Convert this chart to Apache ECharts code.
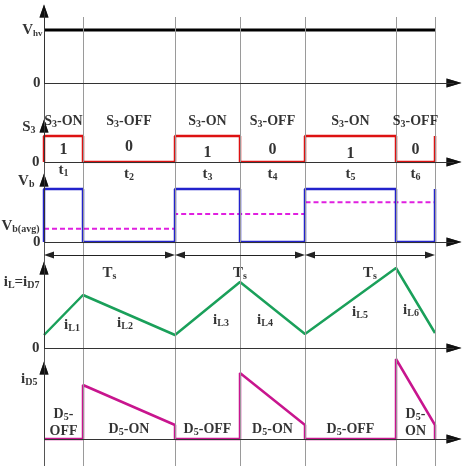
<!DOCTYPE html>
<html><head><meta charset="utf-8">
<script src="https://cdn.jsdelivr.net/npm/echarts@6/dist/echarts.min.js"></script>
<style>html,body{margin:0;padding:0;background:#fff}#c{width:474px;height:474px}</style>
</head><body><div id="c"></div>
<script>
// ---- data (time units: switching instants) ----
const boundaries = [0, 39, 131, 196, 261, 352, 391];
const intervalIds = ['1', '2', '3', '4', '5', '6'];
const s3States = ['ON', 'OFF', 'ON', 'OFF', 'ON', 'OFF'];
const s3Bits = ['1', '0', '1', '0', '1', '0'];
const s3Level = [1, 0, 1, 0, 1, 0, 1];
const vbLevel = [1, 0, 1, 0, 1, 0, 1];
const vhvLevel = 1;
const vbAvg = [0.25, 0.53, 0.75];
const iLValues = [1.3, 5.3, 1.3, 6.6, 1.4, 8.0, 1.5];
const iLIds = ['L1', 'L2', 'L3', 'L4', 'L5', 'L6'];
const iD5Start = [0, 5.4, 0, 6.6, 0, 8.0];
const iD5End = [0, 1.4, 0, 1.4, 0, 1.4];
const d5States = ['OFF', 'ON', 'OFF', 'ON', 'OFF', 'ON'];
const periodSub = 's';

// ---- build series data ----
const b = boundaries;
const mid = i => (b[i] + b[i + 1]) / 2;
function stepData(levels) {
  const pts = [[b[0], 0]];
  for (let i = 0; i < b.length - 1; i++) { pts.push([b[i], levels[i]], [b[i + 1], levels[i]]); }
  pts.push([b[b.length - 1], levels[levels.length - 1]]);
  return pts;
}
const s3Data = stepData(s3Level);
const vbData = stepData(vbLevel);
const vbAvgData = [];
vbAvg.forEach((v, k) => { vbAvgData.push([b[2 * k], v], [b[2 * k + 2], v]); });
const iLData = b.map((t, i) => [t, iLValues[i]]);
const iD5Data = [];
for (let i = 0; i < b.length - 1; i++) {
  iD5Data.push([b[i], 0], [b[i], iD5Start[i]], [b[i + 1], iD5End[i]], [b[i + 1], 0]);
}
const vhvData = [[b[0], vhvLevel], [b[b.length - 1], vhvLevel]];

// ---- styling / layout ----
const FONT = 'Liberation Serif';
const XMAX = 418;      // grid extent (room for arrowheads)
const XEND = 410;      // end of horizontal axis lines
const rich = {
  sub: { fontFamily: FONT, fontWeight: 'bold', fontSize: 10, padding: [7, 0, 0, 0], color: '#000' },
  subs: { fontFamily: FONT, fontWeight: 'bold', fontSize: 9, padding: [7, 0, 0, 0], color: '#000' }
};
const grids = [
  { top: 17, height: 449 },   // background guides
  { top: 3, height: 80 },     // Vhv
  { top: 118, height: 44 },   // S3
  { top: 172, height: 70 },   // Vb
  { top: 245, height: 30 },   // Ts arrows
  { top: 260, height: 88 },   // iL
  { top: 360, height: 79 }    // iD5
].map(g => Object.assign({ left: 44, width: XMAX }, g));
const yMax = [1, 1.509, 1.692, 1.321, 1, 8.8, 7.9];
const yEnd = [1, 1.358, 1.385, 1.17, 1, 8.0, 7.1];
const panels = [1, 2, 3, 5, 6];
const xAxes = grids.map((g, i) => ({ gridIndex: i, type: 'value', min: 0, max: XMAX, show: false }));
const yAxes = grids.map((g, i) => ({ gridIndex: i, type: 'value', min: 0, max: yMax[i], show: false }));

function ann(gi, items, fontSize) {
  return {
    type: 'scatter', xAxisIndex: gi, yAxisIndex: gi, symbolSize: 1, silent: true, clip: false, z: 6,
    itemStyle: { color: 'rgba(0,0,0,0)' },
    label: {
      show: true, formatter: p => p.name, fontFamily: FONT, fontWeight: 'bold',
      fontSize: fontSize || 14, color: '#000', lineHeight: 16, rich: rich
    },
    data: items.map(it => ({
      value: [it.x, it.y], name: it.text,
      label: { position: it.pos || 'inside', distance: it.dist || 0, fontSize: it.fs || fontSize || 14, lineHeight: it.lh || 16 }
    }))
  };
}
// axis lines (markLine) through each panel's scales
function axisLines(gi) {
  return {
    type: 'scatter', xAxisIndex: gi, yAxisIndex: gi, data: [],
    markLine: {
      animation: false, symbol: 'none',
      label: { show: false }, lineStyle: { color: '#333', width: 1, type: 'solid' },
      data: [
        [{ coord: [0, 0] }, { coord: [XEND, 0] }],
        [{ coord: [0, 0] }, { coord: [0, yEnd[gi]] }]
      ]
    }
  };
}
// arrowheads at the axis ends (custom polygons positioned with api.coord)
function axisArrowsCustom(gi) {
  return {
    type: 'custom', coordinateSystem: 'cartesian2d', xAxisIndex: gi, yAxisIndex: gi,
    data: [[XEND, yEnd[gi]]],
    renderItem: function (params, api) {
      const r = api.coord([api.value(0), 0]);
      const u = api.coord([0, api.value(1)]);
      return {
        type: 'group',
        children: [
          { type: 'polygon', shape: { points: [[r[0] + 7.5, r[1]], [r[0] - 7.5, r[1] - 4.5], [r[0] - 7.5, r[1] + 4.5]] }, style: { fill: '#111' } },
          { type: 'polygon', shape: { points: [[u[0], u[1] - 6.5], [u[0] - 4.5, u[1] + 6.5], [u[0] + 4.5, u[1] + 6.5]] }, style: { fill: '#111' } }
        ]
      };
    }
  };
}
// same arrowheads as scatter symbols (identical geometry)
function axisArrowsScatter(gi) {
  return {
    type: 'scatter', xAxisIndex: gi, yAxisIndex: gi,
    itemStyle: { color: '#111' },
    data: [
      { value: [XEND, 0], symbol: 'path://M0,0L16,5L0,10Z', symbolSize: [15, 9] },
      { value: [0, yEnd[gi]], symbol: 'path://M5,0L10,16L0,16Z', symbolSize: [9, 13] }
    ]
  };
}

const bitY = [0.46, 0.58, 0.35, 0.46, 0.31, 0.46];
const tY = [-0.3, -0.45, -0.45, -0.45, -0.45, -0.45];
const iLLabXY = [[28, 2.3], [81, 2.5], [177, 2.8], [221, 2.8], [316, 3.6], [367, 3.8]];

const series = [
  // background vertical guides
  {
    type: 'scatter', xAxisIndex: 0, yAxisIndex: 0, data: [],
    markLine: {
      symbol: 'none', label: { show: false }, animation: false,
      lineStyle: { color: '#9a9a9a', width: 1, type: 'solid' },
      data: b.map((t, i) => ({ xAxis: t, lineStyle: { color: i === 0 ? '#555' : '#9a9a9a', width: 1, type: 'solid' } }))
    }
  }
].concat(panels.map(gi => axisLines(gi)), panels.map(gi => axisArrowsCustom(gi)), panels.map(gi => axisArrowsScatter(gi)), [
  // Vhv
  { type: 'line', xAxisIndex: 1, yAxisIndex: 1, data: vhvData, symbol: 'none', lineStyle: { color: '#000', width: 3 }, z: 3 },
  ann(1, [
    { x: 0, y: vhvLevel, text: 'V{subs|hv}', pos: 'left', dist: 1, fs: 15 },
    { x: 0, y: 0, text: '0', pos: 'left', dist: 3, fs: 15 }
  ]),
  // S3
  { type: 'line', xAxisIndex: 2, yAxisIndex: 2, data: s3Data, symbol: 'none', lineStyle: { color: '#dd1111', width: 2.5 }, z: 3 },
  ann(2, [
    { x: 0, y: 1.35, text: 'S{sub|3}', pos: 'left', dist: 8, fs: 15 },
    { x: 0, y: 0, text: '0', pos: 'left', dist: 4, fs: 15 }
  ].concat(
    s3States.map((s, i) => ({ x: mid(i), y: 1.58, text: 'S{sub|3}-' + s })),
    s3Bits.map((s, i) => ({ x: mid(i), y: bitY[i], text: s, fs: 16 })),
    intervalIds.map((s, i) => ({ x: mid(i), y: tY[i], text: 't{sub|' + s + '}', fs: 15 }))
  )),
  // Vb
  { type: 'line', xAxisIndex: 3, yAxisIndex: 3, data: vbAvgData, symbol: 'none', lineStyle: { color: '#e020e0', width: 2, type: [5, 3] }, z: 2 },
  { type: 'line', xAxisIndex: 3, yAxisIndex: 3, data: vbData, symbol: 'none', lineStyle: { color: '#2222cc', width: 2.5 }, z: 3 },
  ann(3, [
    { x: 0, y: 1.15, text: 'V{sub|b}', pos: 'left', dist: 9, fs: 15 },
    { x: 0, y: 0.30, text: 'V{sub|b(avg)}', pos: 'left', dist: 4, fs: 15 },
    { x: 0, y: 0, text: '0', pos: 'left', dist: 3, fs: 15 }
  ]),
  // Ts arrows
  {
    type: 'scatter', xAxisIndex: 4, yAxisIndex: 4, silent: true, clip: false, symbolSize: 1,
    itemStyle: { color: 'rgba(0,0,0,0)' },
    label: { show: true, position: 'inside', formatter: 'T{sub|' + periodSub + '}', fontFamily: FONT, fontWeight: 'bold', fontSize: 15, color: '#000', rich: rich },
    data: [0, 1, 2].map(k => [(b[2 * k] + b[2 * k + 2]) / 2, 0.07]),
    markLine: {
      silent: true, animation: false, symbol: ['triangle', 'triangle'], symbolSize: [7, 10],
      label: { show: false }, lineStyle: { color: '#222', width: 1, type: 'solid' },
      data: [0, 1, 2].map(k => [{ coord: [b[2 * k] + 5, 0.667] }, { coord: [b[2 * k + 2] - 5, 0.667] }])
    }
  },
  // iL
  { type: 'line', xAxisIndex: 5, yAxisIndex: 5, data: iLData, symbol: 'none', lineStyle: { color: '#1aa05a', width: 2.5 }, z: 3, clip: false },
  ann(5, [
    { x: 0, y: 6.6, text: 'i{sub|L}=i{sub|D7}', pos: 'left', dist: 4, fs: 15 },
    { x: 0, y: 0, text: '0', pos: 'left', dist: 4, fs: 15 }
  ].concat(iLIds.map((s, i) => ({ x: iLLabXY[i][0], y: iLLabXY[i][1], text: 'i{sub|' + s + '}', fs: 15 })))),
  // iD5
  { type: 'line', xAxisIndex: 6, yAxisIndex: 6, data: iD5Data, symbol: 'none', lineStyle: { color: '#c8158e', width: 2.5 }, z: 3, clip: false },
  ann(6, [
    { x: 0, y: 6.0, text: 'i{sub|D5}', pos: 'left', dist: 6, fs: 15 }
  ].concat(d5States.map((s, i) => {
    const twoLine = (b[i + 1] - b[i]) < 50;
    return { x: mid(i), y: twoLine ? 1.65 : 1.0, text: twoLine ? 'D{sub|5}-\n' + s : 'D{sub|5}-' + s, lh: 17 };
  })))
]);

const chart = echarts.init(document.getElementById('c'), null, { renderer: 'canvas' });
chart.setOption({
  animation: false,
  grid: grids,
  xAxis: xAxes,
  yAxis: yAxes,
  series: series
});
</script>
</body></html>
